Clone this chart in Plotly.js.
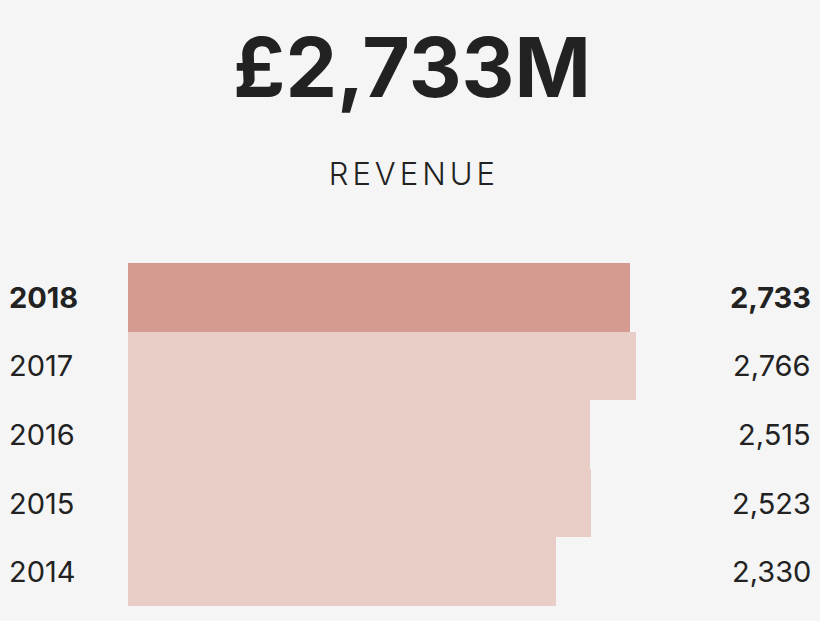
<!DOCTYPE html>
<html>
<head>
<meta charset="utf-8">
<script src="https://cdn.plot.ly/plotly-3.0.1.min.js"></script>
<style>
  html, body { margin: 0; padding: 0; background: #f5f5f5; }
  #chart { width: 820px; height: 621px; }
</style>
</head>
<body>
<div id="chart"></div>
<script>
// revenue by year, £M
const years = ['2018', '2017', '2016', '2015', '2014'];
const revenue = [2733, 2766, 2515, 2523, 2330];
const headline = '£2,733M';
const subtitle = 'REVENUE';

const highlightColor = '#d59b90';
const baseColor = '#e9cdc7';
const textColor = '#222222';
const fontFamily = 'Inter, "Liberation Sans", sans-serif';

const W = 820, H = 621;
const plotLeft = 128;

const fmt = v => v.toLocaleString('en-GB');

const barTrace = {
    type: 'bar',
    orientation: 'h',
    y: years,
    x: revenue,
    marker: {
        color: years.map((_, i) => i === 0 ? highlightColor : baseColor),
        line: { width: 0 }
    },
    hoverinfo: 'none',
    showlegend: false
};

// year labels on the left, values on the right (row centres in paper coords)
const n = years.length;
const annotations = [];
years.forEach((yr, i) => {
    const bold = i === 0;
    const yc = 1 - (i + 0.5) / n;
    annotations.push({
        text: bold ? '<b>' + yr + '</b>' : yr,
        xref: 'paper', yref: 'paper',
        x: (7 - plotLeft) / (W - plotLeft), y: yc,
        xanchor: 'left', yanchor: 'middle',
        showarrow: false,
        font: { family: fontFamily, size: 29, color: textColor }
    });
    annotations.push({
        text: bold ? '<b>' + fmt(revenue[i]) + '</b>' : fmt(revenue[i]),
        xref: 'paper', yref: 'paper',
        x: (813 - plotLeft) / (W - plotLeft), y: yc,
        xanchor: 'right', yanchor: 'middle',
        showarrow: false,
        font: { family: fontFamily, size: 29, color: textColor }
    });
});
annotations.push({
    text: subtitle,
    xref: 'paper', yref: 'paper',
    x: (414 - plotLeft) / (W - plotLeft), y: 1 + (263 - 173) / (606 - 263),
    xanchor: 'center', yanchor: 'middle',
    showarrow: false,
    font: { family: fontFamily, size: 31, color: textColor }
});

const layout = {
    width: W,
    height: H,
    paper_bgcolor: '#f5f5f5',
    plot_bgcolor: '#f5f5f5',
    margin: { l: plotLeft, r: 0, t: 263, b: 15 },
    bargap: 0,
    title: {
        text: '<b>' + headline + '</b>',
        x: 412 / W, xref: 'container', xanchor: 'center',
        y: 1 - 68 / H, yref: 'container', yanchor: 'middle',
        font: { family: fontFamily, size: 82, color: textColor }
    },
    xaxis: {
        range: [0, 3768],
        visible: false,
        fixedrange: true
    },
    yaxis: {
        type: 'category',
        range: [4.5, -0.5],
        visible: false,
        fixedrange: true
    },
    annotations: annotations
};

Plotly.newPlot('chart', [barTrace], layout, { displayModeBar: false, staticPlot: true }).then(gd => {
    // spaced-out caption
    gd.querySelectorAll('.annotation-text').forEach(t => {
        if (t.textContent === subtitle) {
            t.style.letterSpacing = '4px';
            t.style.fontWeight = '300';
        }
    });
});
</script>
</body>
</html>
